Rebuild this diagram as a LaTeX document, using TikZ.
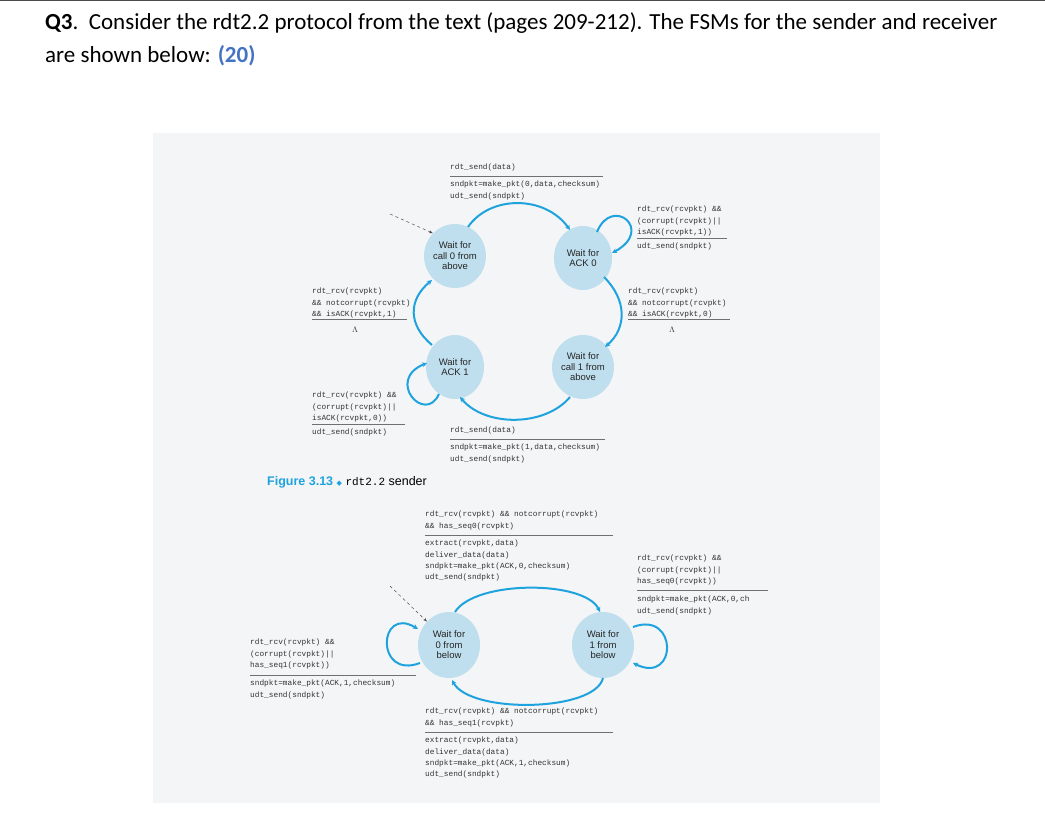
\documentclass[tikz,border=0pt]{standalone}
\usepackage{fontspec}
\setmainfont{Carlito}
\newfontfamily\monof{Liberation Mono}
\newfontfamily\statef{Liberation Sans}
\newfontfamily\symf{DejaVu Sans}
\usetikzlibrary{arrows.meta,shapes.geometric,calc}
\definecolor{panel}{HTML}{F4F5F7}
\definecolor{stfill}{HTML}{BFDFEE}
\definecolor{arc}{HTML}{1FA3DE}
\definecolor{rulec}{HTML}{707070}
\definecolor{titleblue}{HTML}{4472C4}
\tikzset{
 st/.style={ellipse,fill=stfill,minimum width=58pt,minimum height=64pt,inner sep=0pt,align=center,font=\statef\fontsize{9.5}{10.5}\selectfont,text=black!85},
 lbl/.style={anchor=north west,inner sep=0pt,align=left,font=\monof\fontsize{7.8}{11.2}\selectfont,text=black!80},
 tr/.style={draw=arc,line width=2pt,-{Stealth[length=5pt,width=5pt]}},
 rl/.style={draw=rulec,line width=0.8pt},
 init/.style={draw=black!70,dashed,line width=0.5pt,-{Stealth[length=4pt]}}
}
\begin{document}
\begin{tikzpicture}[x=1pt,y=-1pt]
\useasboundingbox (0,0) rectangle (1045,818);
\fill[white] (0,0) rectangle (1045,818);
\draw[black!70,line width=1pt] (0,1) -- (1045,1);
\node[anchor=west,inner sep=0pt,font=\fontsize{23}{27}\selectfont] (t1) at (45,23) {\textbf{Q3}.\ \ Consider the rdt2.2 protocol from the text (pages 209-212). The FSMs for the sender and receiver};
\node[anchor=west,inner sep=0pt,font=\fontsize{23}{27}\selectfont] (t2) at (45,56) {are shown below: \textcolor{titleblue}{\textbf{(20)}}};
\fill[panel] (153,133) rectangle (880,803);
% sender
\node[st] (c0) at (455,256) {Wait for\\call 0 from\\above};
\node[st] (a0) at (583,258) {Wait for\\ACK 0};
\node[st] (a1) at (455,367) {Wait for\\ACK 1};
\node[st] (c1) at (583,367) {Wait for\\call 1 from\\above};
\coordinate (i1) at (390,214);
\draw[init] (i1) -- (c0.north west);
\draw[tr] ($(c0)+(13,-29)$) .. controls (490,195) and (545,195) .. ($(a0)+(-13,-28)$);
\draw[tr] ($(a0)+(21,19)$) .. controls (627,300) and (627,328) .. ($(c1)+(22,-20)$);
\draw[tr] ($(c1)+(-13,30)$) .. controls (545,427) and (485,427) .. ($(a1)+(5,30)$);
\draw[tr] ($(a1)+(-23,-22)$) .. controls (408,325) and (408,300) .. ($(c0)+(-23,24)$);
\draw[tr] ($(a0)+(14,-26)$) .. controls (612,195) and (655,230) .. ($(a0)+(29,-5)$);
\draw[tr] ($(a1)+(-16,27)$) .. controls (425,425) and (385,380) .. ($(a1)+(-28,-4)$);
\node[lbl] (s1) at (450,164) {rdt\_send(data)};
\draw[rl] (450,176) -- (603,176);
\node[lbl] (s2) at (450,181) {sndpkt=make\_pkt(0,data,checksum)\\udt\_send(sndpkt)};
\node[lbl] (s3) at (637,206) {rdt\_rcv(rcvpkt) \&\&\\(corrupt(rcvpkt)||\\isACK(rcvpkt,1))};
\draw[rl] (637,238) -- (727,238);
\node[lbl] (s4) at (637,243) {udt\_send(sndpkt)};
\node[lbl] (s5) at (628,288) {rdt\_rcv(rcvpkt)\\\&\& notcorrupt(rcvpkt)\\\&\& isACK(rcvpkt,0)};
\draw[rl] (628,319) -- (730,319);
\node[font=\fontsize{8}{9}\selectfont,text=black!80] (s6) at (672,330) {$\Lambda$};
\node[lbl] (s7) at (312,288) {rdt\_rcv(rcvpkt)\\\&\& notcorrupt(rcvpkt)\\\&\& isACK(rcvpkt,1)};
\draw[rl] (312,319) -- (407,319);
\node[font=\fontsize{8}{9}\selectfont,text=black!80] (s8) at (355,330) {$\Lambda$};
\node[lbl] (s9) at (312,392) {rdt\_rcv(rcvpkt) \&\&\\(corrupt(rcvpkt)||\\isACK(rcvpkt,0))};
\draw[rl] (312,424) -- (405,424);
\node[lbl] (s10) at (312,429) {udt\_send(sndpkt)};
\node[lbl] (s11) at (450,427) {rdt\_send(data)};
\draw[rl] (450,439) -- (605,439);
\node[lbl] (s12) at (450,444) {sndpkt=make\_pkt(1,data,checksum)\\udt\_send(sndpkt)};
\node[anchor=west,inner sep=0pt,font=\statef\fontsize{12.5}{14}\selectfont] (cap) at (267,482) {\textcolor{arc}{\textbf{Figure 3.13}} \textcolor{arc}{\symf\fontsize{7}{8}\selectfont ◆} {\monof\fontsize{11}{13}\selectfont rdt2.2} sender};
% receiver
\node[st,minimum width=62pt,minimum height=66pt] (r0) at (449,645) {Wait for\\0 from\\below};
\node[st,minimum width=62pt,minimum height=66pt] (r1) at (603,645) {Wait for\\1 from\\below};
\coordinate (i2) at (390,586);
\draw[init] (i2) -- (r0.north west);
\draw[tr] ($(r0)+(6,-33)$) .. controls (475,580) and (585,580) .. ($(r1)+(-3,-33)$);
\draw[tr] ($(r1)+(0,33)$) .. controls (595,712) and (470,714) .. ($(r0)+(3,35)$);
\draw[tr] ($(r0)+(-29,18)$) .. controls (375,680) and (378,605) .. ($(r0)+(-31,-16)$);
\draw[tr] ($(r1)+(30,-18)$) .. controls (678,610) and (678,685) .. ($(r1)+(30,18)$);
\node[lbl] (q1) at (425,511) {rdt\_rcv(rcvpkt) \&\& notcorrupt(rcvpkt)\\\&\& has\_seq0(rcvpkt)};
\draw[rl] (425,535) -- (613,535);
\node[lbl] (q2) at (425,540) {extract(rcvpkt,data)\\deliver\_data(data)\\sndpkt=make\_pkt(ACK,0,checksum)\\udt\_send(sndpkt)};
\node[lbl] (q3) at (637,555) {rdt\_rcv(rcvpkt) \&\&\\(corrupt(rcvpkt)||\\has\_seq0(rcvpkt))};
\draw[rl] (637,590) -- (768,590);
\node[lbl] (q4) at (637,596) {sndpkt=make\_pkt(ACK,0,ch\\udt\_send(sndpkt)};
\node[lbl] (q5) at (250,639) {rdt\_rcv(rcvpkt) \&\&\\(corrupt(rcvpkt)||\\has\_seq1(rcvpkt))};
\draw[rl] (250,675) -- (416,675);
\node[lbl] (q6) at (250,680) {sndpkt=make\_pkt(ACK,1,checksum)\\udt\_send(sndpkt)};
\node[lbl] (q7) at (425,708) {rdt\_rcv(rcvpkt) \&\& notcorrupt(rcvpkt)\\\&\& has\_seq1(rcvpkt)};
\draw[rl] (425,732) -- (613,732);
\node[lbl] (q8) at (425,737) {extract(rcvpkt,data)\\deliver\_data(data)\\sndpkt=make\_pkt(ACK,1,checksum)\\udt\_send(sndpkt)};
\end{tikzpicture}
\end{document}
